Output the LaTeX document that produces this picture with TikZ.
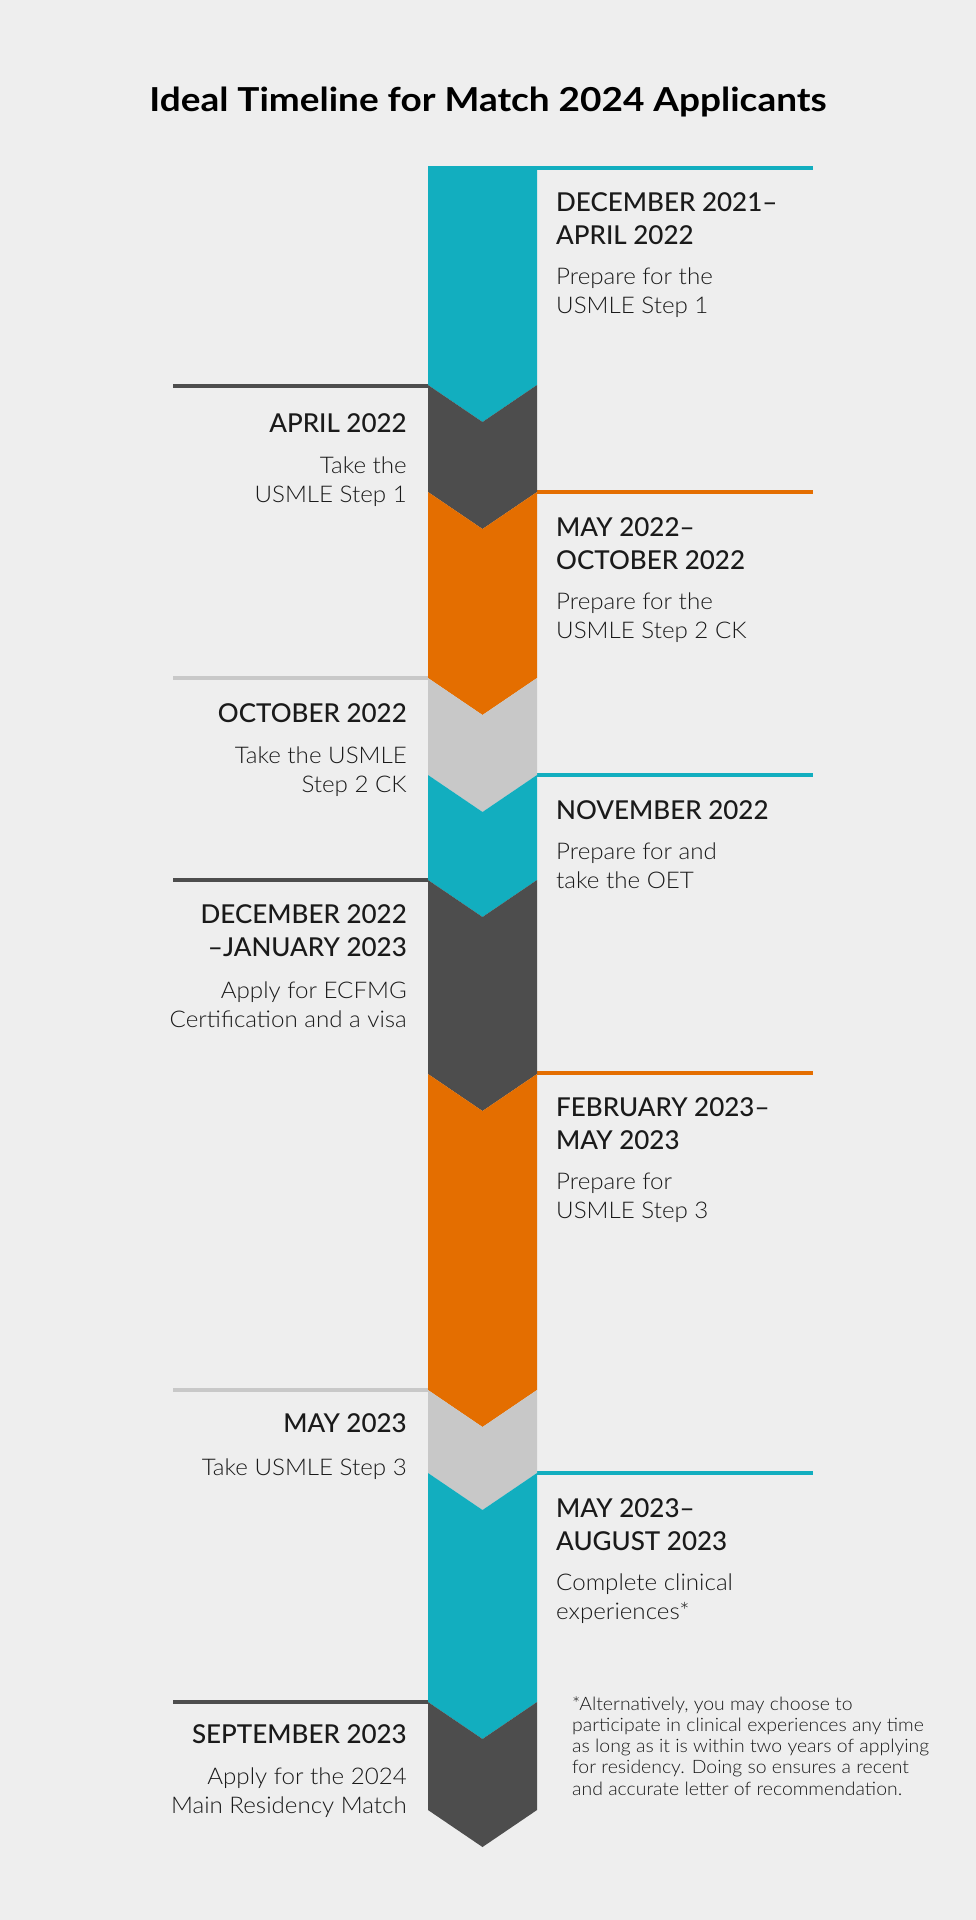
\documentclass[tikz,border=0pt]{standalone}
\usepackage{fontspec}
\setmainfont{Lato}
\newfontfamily\lightfont{Lato Light}[FakeStretch=1.05]
\newfontfamily\datefont{Lato Medium}
\newfontfamily\titlefont{Lato Bold}[FakeStretch=1.12]

\definecolor{bgcol}{HTML}{EEEEEE}
\definecolor{tealcol}{HTML}{12AEBF}
\definecolor{darkcol}{HTML}{4D4D4D}
\definecolor{orangecol}{HTML}{E46E00}
\definecolor{lightcol}{HTML}{C8C8C8}
\definecolor{inkcol}{HTML}{1A1A1A}

\begin{document}
\begin{tikzpicture}[x=1pt,y=-1pt]
\tikzstyle{every node}=[inner sep=0pt,text=inkcol]
\tikzstyle{date}=[font=\datefont\fontsize{26}{33}\selectfont]
\tikzstyle{desc}=[font=\lightfont\fontsize{23}{29}\selectfont]
\tikzstyle{tick}=[line width=4pt]

% background
\fill [bgcol] (0,0) rectangle (976,1920);

% title
\node (title) [anchor=base,font=\titlefont\fontsize{33}{38}\selectfont,text=black] at (488,111) {Ideal Timeline for Match 2024 Applicants};

% side lines
\foreach \y/\col in {168/tealcol,492/orangecol,775/tealcol,1073/orangecol,1473/tealcol}
	\draw [tick,\col] (537,\y) -- (813,\y);
\foreach \y/\col in {386/darkcol,678/lightcol,880/darkcol,1390/lightcol,1702/darkcol}
	\draw [tick,\col] (173,\y) -- (428,\y);

% chevron bar
\fill [tealcol] (428,166) -- (537,166) -- (537,385) -- (482.5,422) -- (428,385) -- cycle;
\foreach \ya/\yb/\col in {385/492/darkcol,492/678/orangecol,678/775/lightcol,775/880/tealcol,880/1074/darkcol,1074/1390/orangecol,1390/1473/lightcol,1473/1702/tealcol,1702/1810/darkcol}
	\fill [\col] (428,\ya) -- (482.5,{\ya+37}) -- (537,\ya) -- (537,\yb) -- (482.5,{\yb+37}) -- (428,\yb) -- cycle;

% right hand entries (base = last line)
\node (dec21) [date,anchor=base west,align=left] at (556,244) {DECEMBER 2021–\\APRIL 2022};
\node (dec21txt) [desc,anchor=base west,align=left] at (556,313) {Prepare for the\\USMLE Step 1};
\node (may22) [date,anchor=base west,align=left] at (556,569) {MAY 2022–\\OCTOBER 2022};
\node (may22txt) [desc,anchor=base west,align=left] at (556,638) {Prepare for the\\USMLE Step 2 CK};
\node (nov22) [date,anchor=base west,align=left] at (556,819) {NOVEMBER 2022};
\node (nov22txt) [desc,anchor=base west,align=left] at (556,888) {Prepare for and\\take the OET};
\node (feb23) [date,anchor=base west,align=left] at (556,1149) {FEBRUARY 2023–\\MAY 2023};
\node (feb23txt) [desc,anchor=base west,align=left] at (556,1218) {Prepare for\\USMLE Step 3};
\node (may23b) [date,anchor=base west,align=left] at (556,1550) {MAY 2023–\\AUGUST 2023};
\node (may23btxt) [desc,anchor=base west,align=left] at (556,1619) {Complete clinical\\experiences*};

% left hand entries
\node (apr22) [date,anchor=base east,align=right] at (407,432) {APRIL 2022};
\node (apr22txt) [desc,anchor=base east,align=right] at (407,502) {Take the\\USMLE Step 1};
\node (oct22) [date,anchor=base east,align=right] at (407,722) {OCTOBER 2022};
\node (oct22txt) [desc,anchor=base east,align=right] at (407,792) {Take the USMLE\\Step 2 CK};
\node (dec22) [date,anchor=base east,align=right] at (407,956) {DECEMBER 2022\\–JANUARY 2023};
\node (dec22txt) [desc,anchor=base east,align=right] at (407,1027) {Apply for ECFMG\\Certification and a visa};
\node (may23) [date,anchor=base east,align=right] at (407,1432) {MAY 2023};
\node (may23txt) [desc,anchor=base east,align=right] at (407,1475) {Take USMLE Step 3};
\node (sep23) [date,anchor=base east,align=right] at (407,1743) {SEPTEMBER 2023};
\node (sep23txt) [desc,anchor=base east,align=right] at (407,1813) {Apply for the 2024\\Main Residency Match};

% footnote
\node (note) [anchor=base west,align=left,font=\lightfont\fontsize{18.5}{21.25}\selectfont] at (572,1795) {*Alternatively, you may choose to\\participate in clinical experiences any time\\as long as it is within two years of applying\\for residency. Doing so ensures a recent\\and accurate letter of recommendation.};

\end{tikzpicture}
\end{document}
